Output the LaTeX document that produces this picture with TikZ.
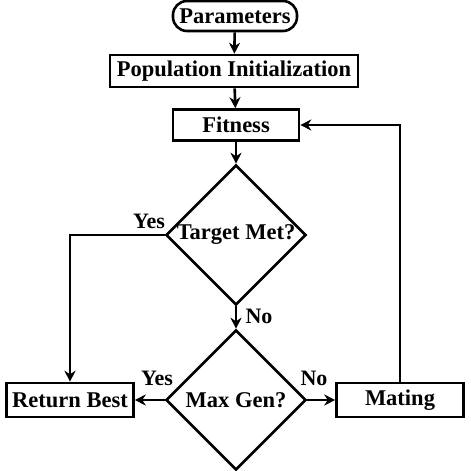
\documentclass[tikz,border=0pt]{standalone}
\usepackage{fontspec}
\setmainfont{Liberation Serif}
\usetikzlibrary{shapes.geometric,arrows.meta}
\begin{document}
\begin{tikzpicture}[x=1pt,y=-1pt,
  every node/.style={font=\fontsize{22.5}{26}\selectfont\bfseries},
  box/.style={draw,line width=2.6pt,rectangle,inner sep=0pt,minimum height=32pt},
  dia/.style={draw,line width=2.6pt,diamond,minimum size=140pt,inner sep=0pt,aspect=1},
  conn/.style={line width=2.6pt,-{Stealth[length=11pt,width=11pt]}},
  lbl/.style={font=\fontsize{22}{26}\selectfont\bfseries,inner sep=0pt}]
\useasboundingbox (0,0) rectangle (471,471);
\node[box,rounded corners=14pt,minimum width=124pt,minimum height=30pt] (params) at (235,16) {Parameters};
\node[box,minimum width=248pt] (pop) at (234,71) {Population Initialization};
\node[box,minimum width=126pt,minimum height=31pt] (fit) at (236,125) {Fitness};
\node[dia] (target) at (236,235) {Target Met?};
\node[dia] (maxgen) at (236,400) {Max Gen?};
\node[box,minimum width=127pt,minimum height=34pt] (ret) at (70,400) {Return Best};
\node[box,minimum width=127pt,minimum height=34pt] (mat) at (400,400) {Mating};
\draw[conn] (params) -- (pop);
\draw[conn] (pop) -- (fit);
\draw[conn] (fit) -- (target.north);
\draw[conn] (target.south) -- (maxgen.north);
\draw[conn] (target.west) -| (ret.north);
\draw[conn] (maxgen.west) -- (ret.east);
\draw[conn] (maxgen.east) -- (mat.west);
\draw[conn] (mat.north) |- (fit.east);
\node[lbl] (y1) at (149,221) {Yes};
\node[lbl] (n1) at (259,316) {No};
\node[lbl] (y2) at (157,378) {Yes};
\node[lbl] (n2) at (314,378) {No};
\end{tikzpicture}
\end{document}
